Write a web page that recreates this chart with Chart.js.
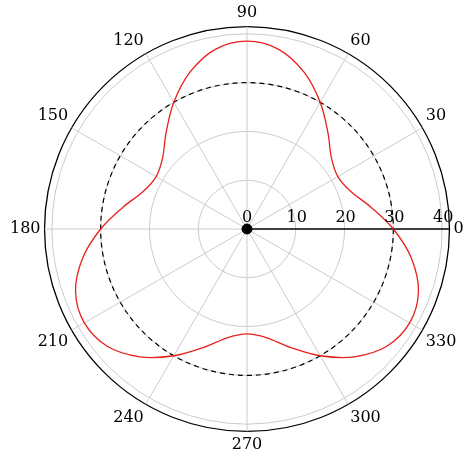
<!DOCTYPE html>
<html><head><meta charset="utf-8">
<script src="https://cdn.jsdelivr.net/npm/chart.js@4"></script>
<style>html,body{margin:0;background:#fff}#w{width:474px;height:459px}</style>
</head><body><div id="w"><canvas id="c"></canvas></div>
<script>
const angles = [0,10,20,30,40,50,60,70,80,90,100,110,120,130,140,150,160,170,180,190,200,210,220,230,240,250,260,270,280,290,300,310,320,330,340,350];
const curveValues = [30,25.8,22.6,21.5,22.6,25.8,30,34.2,37.4,38.5,37.4,34.2,30,25.8,22.6,21.5,22.6,25.8,30,34.2,37.4,38.5,37.4,34.2,30,25.8,22.6,21.5,22.6,25.8,30,34.2,37.4,38.5,37.4,34.2];
const circleValue = 30;
const radialTicks = [0,10,20,30,40];
const rMax = 41.5;

const order = [0].concat(angles.slice(1).reverse());
const idx = order.map(a => angles.indexOf(a));
const labels = order.map(String);
const red = idx.map(i => curveValues[i]);
const dashed = idx.map(() => circleValue);
const centre = order.map((a,i) => i===0 ? 0 : null);
const serif = "'DejaVu Serif','Liberation Serif',serif";

const tickLabels = {
  id:'tickLabels',
  afterDatasetsDraw(chart){
    const s = chart.scales.r, ctx = chart.ctx;
    ctx.save();
    ctx.fillStyle='#000'; ctx.font = '16px '+serif;
    ctx.textAlign='center'; ctx.textBaseline='bottom';
    radialTicks.forEach(v=>{
      const d = s.getDistanceFromCenterForValue(v);
      ctx.fillText(String(v), s.xCenter + d + (v===0?0:1), s.yCenter - 3);
    });
    ctx.restore();
  }
};

new Chart(document.getElementById('c'), {
  type: 'radar',
  data: { labels, datasets: [
    {data: red, borderColor:'#e8201c', borderWidth:1.3, pointRadius:0, fill:false, tension:0.35},
    {data: dashed, borderColor:'#000', borderWidth:1.2, borderDash:[5,4], pointRadius:0, fill:false, tension:0.35},
    {data: centre, pointRadius:5, pointBackgroundColor:'#000', pointBorderColor:'#000', showLine:false}
  ]},
  plugins:[tickLabels],
  options: {
    responsive:true, maintainAspectRatio:false, animation:false,
    layout:{padding:{top:-6,bottom:-8,left:-8,right:-8}},
    plugins:{legend:{display:false}, tooltip:{enabled:false}},
    scales:{ r:{
      min:0, max:rMax, startAngle:90,
      afterBuildTicks: s => { s.ticks = radialTicks.map(v=>({value:v})).concat([{value:rMax}]); },
      ticks:{ display:false },
      grid:{ circular:true, color: c => c.tick && c.tick.value===rMax ? '#000' : '#cccccc', lineWidth: c => c.tick && c.tick.value===rMax ? 1.3 : 1 },
      angleLines:{ color: c => c.index===0 ? '#000' : (Number(labels[c.index])%30===0 ? '#cccccc' : 'rgba(0,0,0,0)'), lineWidth: c => c.index===0 ? 1.3 : 1 },
      pointLabels:{ color:'#000', font:{family:serif,size:16}, padding:4,
        callback: l => Number(l)%30===0 ? l : '' }
    }}
  }
});
</script></body></html>
